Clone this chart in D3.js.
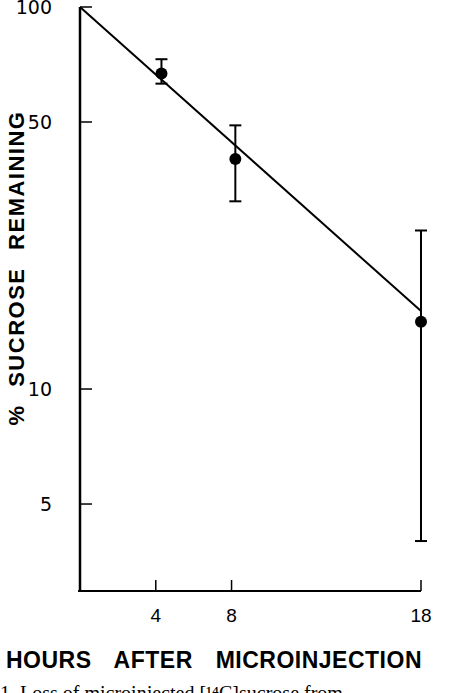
<!DOCTYPE html>
<html><head><meta charset="utf-8">
<script src="https://cdn.jsdelivr.net/npm/d3@7"></script>
<style>body{margin:0;background:#fff}</style>
</head><body>
<svg id="c" width="474" height="693"></svg>
<script>
// data
var hours = [4.3, 8.2, 18];
var means = [67, 40, 15];
var lows = [63, 31, 4];
var highs = [73, 49, 26];
var fitHours = [0, 18];
var fitValues = [100, 16];
var xTicks = [4, 8, 18];
var yTicks = [100, 50, 10, 5];

var svg = d3.select("#c");
var x = d3.scaleLinear().domain([0, 18]).range([80, 421]);
var y = d3.scaleLog().domain([2.96, 100]).range([591, 7]);

svg.append("line").attr("x1", 80).attr("x2", 80).attr("y1", y(100)).attr("y2", 591)
  .attr("stroke", "#000").attr("stroke-width", 2.5);
svg.append("line").attr("x1", 78).attr("x2", x(18)).attr("y1", 591).attr("y2", 591)
  .attr("stroke", "#000").attr("stroke-width", 2);

svg.selectAll(".yt").data(yTicks).enter().append("line")
  .attr("x1", 80).attr("x2", 92).attr("y1", d => y(d)).attr("y2", d => y(d))
  .attr("stroke", "#000").attr("stroke-width", 1.5);
svg.selectAll(".yl").data(yTicks).enter().append("text")
  .attr("x", 52).attr("y", d => y(d) + 7).attr("text-anchor", "end")
  .attr("font-family", "DejaVu Sans").attr("font-size", 19).text(d => d);

svg.selectAll(".xt").data(xTicks).enter().append("line")
  .attr("x1", d => x(d)).attr("x2", d => x(d)).attr("y1", 591).attr("y2", 580)
  .attr("stroke", "#000").attr("stroke-width", 1.5);
svg.selectAll(".xl").data(xTicks).enter().append("text")
  .attr("x", d => x(d)).attr("y", 622).attr("text-anchor", "middle")
  .attr("font-family", "Liberation Sans").attr("font-size", 19).text(d => d);

svg.append("path").datum(d3.zip(fitHours, fitValues))
  .attr("d", d3.line().x(d => x(d[0])).y(d => y(d[1])))
  .attr("stroke", "#000").attr("stroke-width", 2).attr("fill", "none");

var pts = d3.range(hours.length);
svg.selectAll(".eb").data(pts).enter().append("line")
  .attr("x1", i => x(hours[i])).attr("x2", i => x(hours[i]))
  .attr("y1", i => y(lows[i])).attr("y2", i => y(highs[i]))
  .attr("stroke", "#000").attr("stroke-width", 2);
[lows, highs].forEach(function(arr) {
  svg.selectAll(null).data(pts).enter().append("line")
    .attr("x1", i => x(hours[i]) - 6).attr("x2", i => x(hours[i]) + 6)
    .attr("y1", i => y(arr[i])).attr("y2", i => y(arr[i]))
    .attr("stroke", "#000").attr("stroke-width", 2);
});
svg.selectAll(".pt").data(pts).enter().append("circle")
  .attr("cx", i => x(hours[i])).attr("cy", i => y(means[i])).attr("r", 6).attr("fill", "#000");

svg.append("text").attr("transform", "translate(24,268) rotate(-90)")
  .attr("text-anchor", "middle").attr("font-family", "Liberation Sans").attr("font-weight", "bold")
  .attr("font-size", 22).attr("letter-spacing", 1.5).attr("word-spacing", 10).text("% SUCROSE REMAINING");
svg.append("text").attr("x", 6).attr("y", 668)
  .attr("font-family", "Liberation Sans").attr("font-weight", "bold")
  .attr("font-size", 23).attr("letter-spacing", 0.5).attr("word-spacing", 16).text("HOURS AFTER MICROINJECTION");
svg.append("text").attr("x", 0).attr("y", 700)
  .attr("font-family", "Liberation Serif").attr("font-size", 20).text("1.  Loss of microinjected [¹⁴C]sucrose from");
</script>
</body></html>
